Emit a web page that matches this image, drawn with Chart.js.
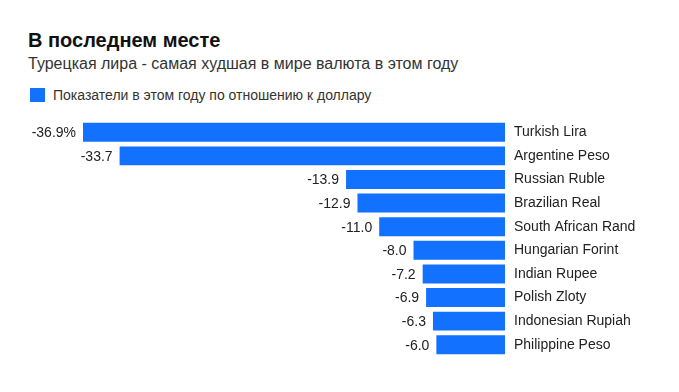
<!DOCTYPE html>
<html>
<head>
<meta charset="utf-8">
<script src="https://cdn.jsdelivr.net/npm/chart.js@4"></script>
<style>
  body{margin:0;background:#fff;font-family:"Liberation Sans",Arial,sans-serif;color:#111;}
  #wrap{position:relative;width:679px;height:392px;}
  #title{position:absolute;left:28px;top:29px;font-size:20px;font-weight:bold;}
  #sub{position:absolute;left:28px;top:55px;font-size:16px;color:#333;}
  #legend{position:absolute;left:30px;top:87px;font-size:14px;color:#333;display:flex;align-items:center;}
  #legend span{display:inline-block;width:15px;height:14px;background:#1271ff;margin-right:8px;}
  #chart{position:absolute;left:0;top:111px;}
</style>
</head>
<body>
<div id="wrap">
  <div id="title">В последнем месте</div>
  <div id="sub">Турецкая лира - самая худшая в мире валюта в этом году</div>
  <div id="legend"><span></span>Показатели в этом году по отношению к доллару</div>
  <canvas id="chart" width="679" height="255"></canvas>
</div>
<script>
const currencies = ["Turkish Lira","Argentine Peso","Russian Ruble","Brazilian Real","South African Rand",
                    "Hungarian Forint","Indian Rupee","Polish Zloty","Indonesian Rupiah","Philippine Peso"];
const changes = [-36.9, -33.7, -13.9, -12.9, -11.0, -8.0, -7.2, -6.9, -6.3, -6.0];
const seriesName = "Показатели в этом году по отношению к доллару";

// value labels to the left of each bar
const valueLabels = {
    id:"valueLabels",
    afterDatasetsDraw(chart){
        const ctx = chart.ctx;
        const meta = chart.getDatasetMeta(0);
        ctx.save();
        ctx.font = "14px 'Liberation Sans', Arial, sans-serif";
        ctx.fillStyle = "#222";
        ctx.textAlign = "right";
        ctx.textBaseline = "middle";
        meta.data.forEach((bar, i) => {
            let txt = changes[i].toFixed(1);
            if(i === 0) txt += "%";
            ctx.fillText(txt, bar.x - 7, bar.y + 1);
        });
        ctx.restore();
    }
};

new Chart(document.getElementById("chart"), {
    type:"bar",
    data:{
        labels:currencies,
        datasets:[{
            label:seriesName,
            data:changes,
            backgroundColor:"#1271ff",
            barPercentage:0.8,
            categoryPercentage:1
        }]
    },
    options:{
        indexAxis:"y",
        responsive:false,
        animation:false,
        layout:{padding:{left:83, right:0, top:0, bottom:0}},
        plugins:{legend:{display:false}, tooltip:{enabled:false}},
        scales:{
            x:{min:-36.9, max:0, display:false},
            y:{
                position:"right",
                grid:{display:false},
                border:{display:false},
                ticks:{color:"#222", padding:1, font:{size:14, family:"'Liberation Sans', Arial, sans-serif"}},
                afterFit(scale){ scale.width = 174; }
            }
        }
    },
    plugins:[valueLabels]
});
</script>
</body>
</html>
